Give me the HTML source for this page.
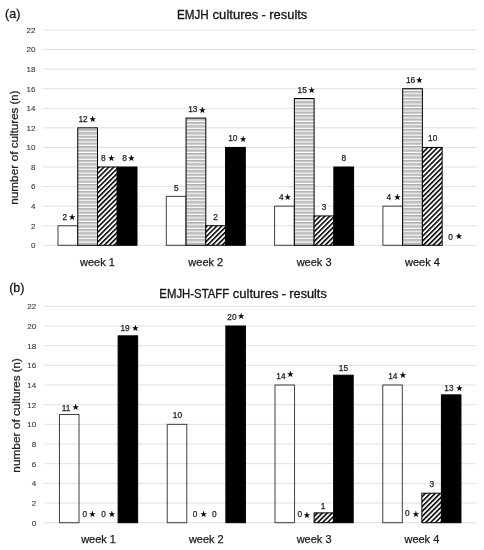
<!DOCTYPE html>
<html><head><meta charset="utf-8"><title>EMJH cultures - results</title>
<style>
html,body{margin:0;padding:0;background:#fff;}
body{width:484px;height:550px;overflow:hidden;}
svg{display:block;}
text{font-family:'Liberation Sans', Arial, sans-serif;fill:#222222;stroke:#222222;stroke-width:0.25px;}
.tk{font-size:8px;fill:#3a3a3a;stroke:#3a3a3a;stroke-width:0.12px;}
.dl{font-size:8.3px;}
.st{font-family:'Liberation Sans', 'Noto Sans CJK JP', sans-serif;fill:#000;stroke:#000;stroke-width:0.1px;font-size:6.8px;}
.xl{font-size:11px;fill:#1a1a1a;stroke:#1a1a1a;}
.ti{font-size:12px;fill:#141414;stroke:#141414;stroke-width:0.3px;}
.pl{font-size:12.5px;fill:#141414;stroke:#141414;stroke-width:0.3px;}
.yt{font-size:11.3px;}
</style></head><body>
<svg width="484" height="550" viewBox="0 0 484 550">
<rect width="484" height="550" fill="#fff"/>
<defs>
<pattern id="hz" patternUnits="userSpaceOnUse" width="8" height="3.45" y="0.3">
<rect width="8" height="3.45" fill="#ffffff"/>
<rect y="1.35" width="8" height="0.75" fill="#484848"/>
<rect y="2.1" width="8" height="1.35" fill="#d0d0d0"/>
</pattern>
<pattern id="dg" patternUnits="userSpaceOnUse" width="3.47" height="3.47" patternTransform="rotate(45)">
<rect width="3.47" height="3.47" fill="#ffffff"/>
<rect width="1.55" height="3.47" fill="#000000"/>
</pattern>
</defs>
<line x1="42.7" x2="476.9" y1="245.3" y2="245.3" stroke="#e0e0e0" stroke-width="1"/>
<text x="35.4" y="248.2" text-anchor="end" class="tk">0</text>
<line x1="42.7" x2="476.9" y1="225.73" y2="225.73" stroke="#e0e0e0" stroke-width="1"/>
<text x="35.4" y="228.63" text-anchor="end" class="tk">2</text>
<line x1="42.7" x2="476.9" y1="206.16" y2="206.16" stroke="#e0e0e0" stroke-width="1"/>
<text x="35.4" y="209.06" text-anchor="end" class="tk">4</text>
<line x1="42.7" x2="476.9" y1="186.58" y2="186.58" stroke="#e0e0e0" stroke-width="1"/>
<text x="35.4" y="189.48" text-anchor="end" class="tk">6</text>
<line x1="42.7" x2="476.9" y1="167.01" y2="167.01" stroke="#e0e0e0" stroke-width="1"/>
<text x="35.4" y="169.91" text-anchor="end" class="tk">8</text>
<line x1="42.7" x2="476.9" y1="147.44" y2="147.44" stroke="#e0e0e0" stroke-width="1"/>
<text x="35.4" y="150.34" text-anchor="end" class="tk">10</text>
<line x1="42.7" x2="476.9" y1="127.87" y2="127.87" stroke="#e0e0e0" stroke-width="1"/>
<text x="35.4" y="130.77" text-anchor="end" class="tk">12</text>
<line x1="42.7" x2="476.9" y1="108.3" y2="108.3" stroke="#e0e0e0" stroke-width="1"/>
<text x="35.4" y="111.2" text-anchor="end" class="tk">14</text>
<line x1="42.7" x2="476.9" y1="88.72" y2="88.72" stroke="#e0e0e0" stroke-width="1"/>
<text x="35.4" y="91.62" text-anchor="end" class="tk">16</text>
<line x1="42.7" x2="476.9" y1="69.15" y2="69.15" stroke="#e0e0e0" stroke-width="1"/>
<text x="35.4" y="72.05" text-anchor="end" class="tk">18</text>
<line x1="42.7" x2="476.9" y1="49.58" y2="49.58" stroke="#e0e0e0" stroke-width="1"/>
<text x="35.4" y="52.48" text-anchor="end" class="tk">20</text>
<line x1="42.7" x2="476.9" y1="30.01" y2="30.01" stroke="#e0e0e0" stroke-width="1"/>
<text x="35.4" y="32.91" text-anchor="end" class="tk">22</text>
<rect x="58" y="225.73" width="19.75" height="19.57" fill="none" stroke="#404040" stroke-width="1"/>
<rect x="77.75" y="127.87" width="19.75" height="117.43" fill="url(#hz)" stroke="#000000" stroke-width="1"/>
<rect x="97.5" y="167.01" width="19.75" height="78.29" fill="url(#dg)" stroke="#000000" stroke-width="1"/>
<rect x="117.25" y="167.01" width="19.75" height="78.29" fill="#000000" stroke="#000000" stroke-width="1"/>
<text x="97.5" y="265.7" text-anchor="middle" class="xl">week 1</text>
<rect x="166.3" y="196.37" width="19.75" height="48.93" fill="none" stroke="#404040" stroke-width="1"/>
<rect x="186.05" y="118.08" width="19.75" height="127.22" fill="url(#hz)" stroke="#000000" stroke-width="1"/>
<rect x="205.8" y="225.73" width="19.75" height="19.57" fill="url(#dg)" stroke="#000000" stroke-width="1"/>
<rect x="225.55" y="147.44" width="19.75" height="97.86" fill="#000000" stroke="#000000" stroke-width="1"/>
<text x="205.8" y="265.7" text-anchor="middle" class="xl">week 2</text>
<rect x="274.6" y="206.16" width="19.75" height="39.14" fill="none" stroke="#404040" stroke-width="1"/>
<rect x="294.35" y="98.51" width="19.75" height="146.79" fill="url(#hz)" stroke="#000000" stroke-width="1"/>
<rect x="314.1" y="215.94" width="19.75" height="29.36" fill="url(#dg)" stroke="#000000" stroke-width="1"/>
<rect x="333.85" y="167.01" width="19.75" height="78.29" fill="#000000" stroke="#000000" stroke-width="1"/>
<text x="314.1" y="265.7" text-anchor="middle" class="xl">week 3</text>
<rect x="382.9" y="206.16" width="19.75" height="39.14" fill="none" stroke="#404040" stroke-width="1"/>
<rect x="402.65" y="88.72" width="19.75" height="156.58" fill="url(#hz)" stroke="#000000" stroke-width="1"/>
<rect x="422.4" y="147.44" width="19.75" height="97.86" fill="url(#dg)" stroke="#000000" stroke-width="1"/>
<text x="422.4" y="265.7" text-anchor="middle" class="xl">week 4</text>
<text y="18.5" class="ti"><tspan x="177.05" textLength="31.62" lengthAdjust="spacingAndGlyphs">EMJH</tspan> <tspan x="212.59" textLength="45.82" lengthAdjust="spacingAndGlyphs">cultures</tspan> <tspan x="261.60" textLength="4.31" lengthAdjust="spacingAndGlyphs">-</tspan> <tspan x="269.33" textLength="37.94" lengthAdjust="spacingAndGlyphs">results</tspan></text>
<text x="5.1" y="17.7" class="pl">(a)</text>
<text transform="translate(17.9,0) rotate(-90)" y="0" class="yt"><tspan x="-204.85" textLength="40.02" lengthAdjust="spacingAndGlyphs">number</tspan> <tspan x="-161.51" textLength="10.22" lengthAdjust="spacingAndGlyphs">of</tspan> <tspan x="-148.29" textLength="40.71" lengthAdjust="spacingAndGlyphs">cultures</tspan> <tspan x="-104.43" textLength="13.89" lengthAdjust="spacingAndGlyphs">(n)</tspan></text>
<line x1="44.4" x2="475.9" y1="522.7" y2="522.7" stroke="#e0e0e0" stroke-width="1"/>
<text x="36.2" y="525.6" text-anchor="end" class="tk">0</text>
<line x1="44.4" x2="475.9" y1="503.03" y2="503.03" stroke="#e0e0e0" stroke-width="1"/>
<text x="36.2" y="505.93" text-anchor="end" class="tk">2</text>
<line x1="44.4" x2="475.9" y1="483.36" y2="483.36" stroke="#e0e0e0" stroke-width="1"/>
<text x="36.2" y="486.26" text-anchor="end" class="tk">4</text>
<line x1="44.4" x2="475.9" y1="463.69" y2="463.69" stroke="#e0e0e0" stroke-width="1"/>
<text x="36.2" y="466.59" text-anchor="end" class="tk">6</text>
<line x1="44.4" x2="475.9" y1="444.02" y2="444.02" stroke="#e0e0e0" stroke-width="1"/>
<text x="36.2" y="446.92" text-anchor="end" class="tk">8</text>
<line x1="44.4" x2="475.9" y1="424.35" y2="424.35" stroke="#e0e0e0" stroke-width="1"/>
<text x="36.2" y="427.25" text-anchor="end" class="tk">10</text>
<line x1="44.4" x2="475.9" y1="404.68" y2="404.68" stroke="#e0e0e0" stroke-width="1"/>
<text x="36.2" y="407.58" text-anchor="end" class="tk">12</text>
<line x1="44.4" x2="475.9" y1="385.01" y2="385.01" stroke="#e0e0e0" stroke-width="1"/>
<text x="36.2" y="387.91" text-anchor="end" class="tk">14</text>
<line x1="44.4" x2="475.9" y1="365.34" y2="365.34" stroke="#e0e0e0" stroke-width="1"/>
<text x="36.2" y="368.24" text-anchor="end" class="tk">16</text>
<line x1="44.4" x2="475.9" y1="345.67" y2="345.67" stroke="#e0e0e0" stroke-width="1"/>
<text x="36.2" y="348.57" text-anchor="end" class="tk">18</text>
<line x1="44.4" x2="475.9" y1="326" y2="326" stroke="#e0e0e0" stroke-width="1"/>
<text x="36.2" y="328.9" text-anchor="end" class="tk">20</text>
<line x1="44.4" x2="475.9" y1="306.33" y2="306.33" stroke="#e0e0e0" stroke-width="1"/>
<text x="36.2" y="309.23" text-anchor="end" class="tk">22</text>
<rect x="59.46" y="414.52" width="19.55" height="108.19" fill="none" stroke="#404040" stroke-width="1"/>
<rect x="118.11" y="335.84" width="19.55" height="186.87" fill="#000000" stroke="#000000" stroke-width="1"/>
<text x="98.56" y="542.7" text-anchor="middle" class="xl">week 1</text>
<rect x="167.22" y="424.35" width="19.55" height="98.35" fill="none" stroke="#404040" stroke-width="1"/>
<rect x="225.88" y="326" width="19.55" height="196.7" fill="#000000" stroke="#000000" stroke-width="1"/>
<text x="206.32" y="542.7" text-anchor="middle" class="xl">week 2</text>
<rect x="275" y="385.01" width="19.55" height="137.69" fill="none" stroke="#404040" stroke-width="1"/>
<rect x="314.1" y="512.87" width="19.55" height="9.84" fill="url(#dg)" stroke="#000000" stroke-width="1"/>
<rect x="333.64" y="375.18" width="19.55" height="147.53" fill="#000000" stroke="#000000" stroke-width="1"/>
<text x="314.1" y="542.7" text-anchor="middle" class="xl">week 3</text>
<rect x="382.76" y="385.01" width="19.55" height="137.69" fill="none" stroke="#404040" stroke-width="1"/>
<rect x="421.87" y="493.2" width="19.55" height="29.51" fill="url(#dg)" stroke="#000000" stroke-width="1"/>
<rect x="441.41" y="394.85" width="19.55" height="127.86" fill="#000000" stroke="#000000" stroke-width="1"/>
<text x="421.87" y="542.7" text-anchor="middle" class="xl">week 4</text>
<text y="298.2" class="ti"><tspan x="159.37" textLength="69.91" lengthAdjust="spacingAndGlyphs">EMJH-STAFF</tspan> <tspan x="232.79" textLength="45.71" lengthAdjust="spacingAndGlyphs">cultures</tspan> <tspan x="281.47" textLength="4.55" lengthAdjust="spacingAndGlyphs">-</tspan> <tspan x="289.34" textLength="37.43" lengthAdjust="spacingAndGlyphs">results</tspan></text>
<text x="9.2" y="291.5" class="pl">(b)</text>
<text transform="translate(20.2,0) rotate(-90)" y="0" class="yt"><tspan x="-472.65" textLength="40.02" lengthAdjust="spacingAndGlyphs">number</tspan> <tspan x="-429.31" textLength="10.22" lengthAdjust="spacingAndGlyphs">of</tspan> <tspan x="-416.09" textLength="40.71" lengthAdjust="spacingAndGlyphs">cultures</tspan> <tspan x="-372.23" textLength="13.89" lengthAdjust="spacingAndGlyphs">(n)</tspan></text>
<text x="64.85" y="219.7" text-anchor="middle" class="dl">2</text>
<text x="72.1" y="219.1" text-anchor="middle" class="st">★</text>
<text x="83" y="121.8" text-anchor="middle" class="dl">12</text>
<text x="92.75" y="121.2" text-anchor="middle" class="st">★</text>
<text x="103.35" y="160.8" text-anchor="middle" class="dl">8</text>
<text x="111.5" y="159.8" text-anchor="middle" class="st">★</text>
<text x="124.5" y="160.8" text-anchor="middle" class="dl">8</text>
<text x="131.5" y="159.8" text-anchor="middle" class="st">★</text>
<text x="176.3" y="190.7" text-anchor="middle" class="dl">5</text>
<text x="192.8" y="112.2" text-anchor="middle" class="dl">13</text>
<text x="202.5" y="111.7" text-anchor="middle" class="st">★</text>
<text x="215.55" y="219.7" text-anchor="middle" class="dl">2</text>
<text x="232.8" y="141.3" text-anchor="middle" class="dl">10</text>
<text x="243.05" y="140.9" text-anchor="middle" class="st">★</text>
<text x="281.35" y="199.5" text-anchor="middle" class="dl">4</text>
<text x="287.65" y="199.1" text-anchor="middle" class="st">★</text>
<text x="302.15" y="93.2" text-anchor="middle" class="dl">15</text>
<text x="311.55" y="92.1" text-anchor="middle" class="st">★</text>
<text x="324" y="209.7" text-anchor="middle" class="dl">3</text>
<text x="343.7" y="160.6" text-anchor="middle" class="dl">8</text>
<text x="388.85" y="199.5" text-anchor="middle" class="dl">4</text>
<text x="397.5" y="199.1" text-anchor="middle" class="st">★</text>
<text x="410.55" y="83.45" text-anchor="middle" class="dl">16</text>
<text x="419.4" y="81.7" text-anchor="middle" class="st">★</text>
<text x="432.65" y="141.4" text-anchor="middle" class="dl">10</text>
<text x="450.5" y="239.7" text-anchor="middle" class="dl">0</text>
<text x="458.8" y="238.1" text-anchor="middle" class="st">★</text>
<text x="66.1" y="410.5" text-anchor="middle" class="dl">11</text>
<text x="75.75" y="409.4" text-anchor="middle" class="st">★</text>
<text x="84.9" y="516.8" text-anchor="middle" class="dl">0</text>
<text x="92.5" y="516.1" text-anchor="middle" class="st">★</text>
<text x="103.5" y="517.1" text-anchor="middle" class="dl">0</text>
<text x="111.9" y="515.9" text-anchor="middle" class="st">★</text>
<text x="125.05" y="331" text-anchor="middle" class="dl">19</text>
<text x="135.4" y="330.3" text-anchor="middle" class="st">★</text>
<text x="177.45" y="418" text-anchor="middle" class="dl">10</text>
<text x="195.05" y="516.5" text-anchor="middle" class="dl">0</text>
<text x="203.7" y="516" text-anchor="middle" class="st">★</text>
<text x="214.4" y="516.5" text-anchor="middle" class="dl">0</text>
<text x="231.95" y="319.7" text-anchor="middle" class="dl">20</text>
<text x="241.05" y="318.1" text-anchor="middle" class="st">★</text>
<text x="280.95" y="378.6" text-anchor="middle" class="dl">14</text>
<text x="290.5" y="376" text-anchor="middle" class="st">★</text>
<text x="299.9" y="517.3" text-anchor="middle" class="dl">0</text>
<text x="306.85" y="516.5" text-anchor="middle" class="st">★</text>
<text x="322.95" y="509" text-anchor="middle" class="dl">1</text>
<text x="343.45" y="370.5" text-anchor="middle" class="dl">15</text>
<text x="392.75" y="378.6" text-anchor="middle" class="dl">14</text>
<text x="403" y="376.9" text-anchor="middle" class="st">★</text>
<text x="407.25" y="516.2" text-anchor="middle" class="dl">0</text>
<text x="415.8" y="515.7" text-anchor="middle" class="st">★</text>
<text x="431.9" y="486.8" text-anchor="middle" class="dl">3</text>
<text x="448.9" y="391.3" text-anchor="middle" class="dl">13</text>
<text x="459.5" y="389.8" text-anchor="middle" class="st">★</text>
</svg>
</body></html>
